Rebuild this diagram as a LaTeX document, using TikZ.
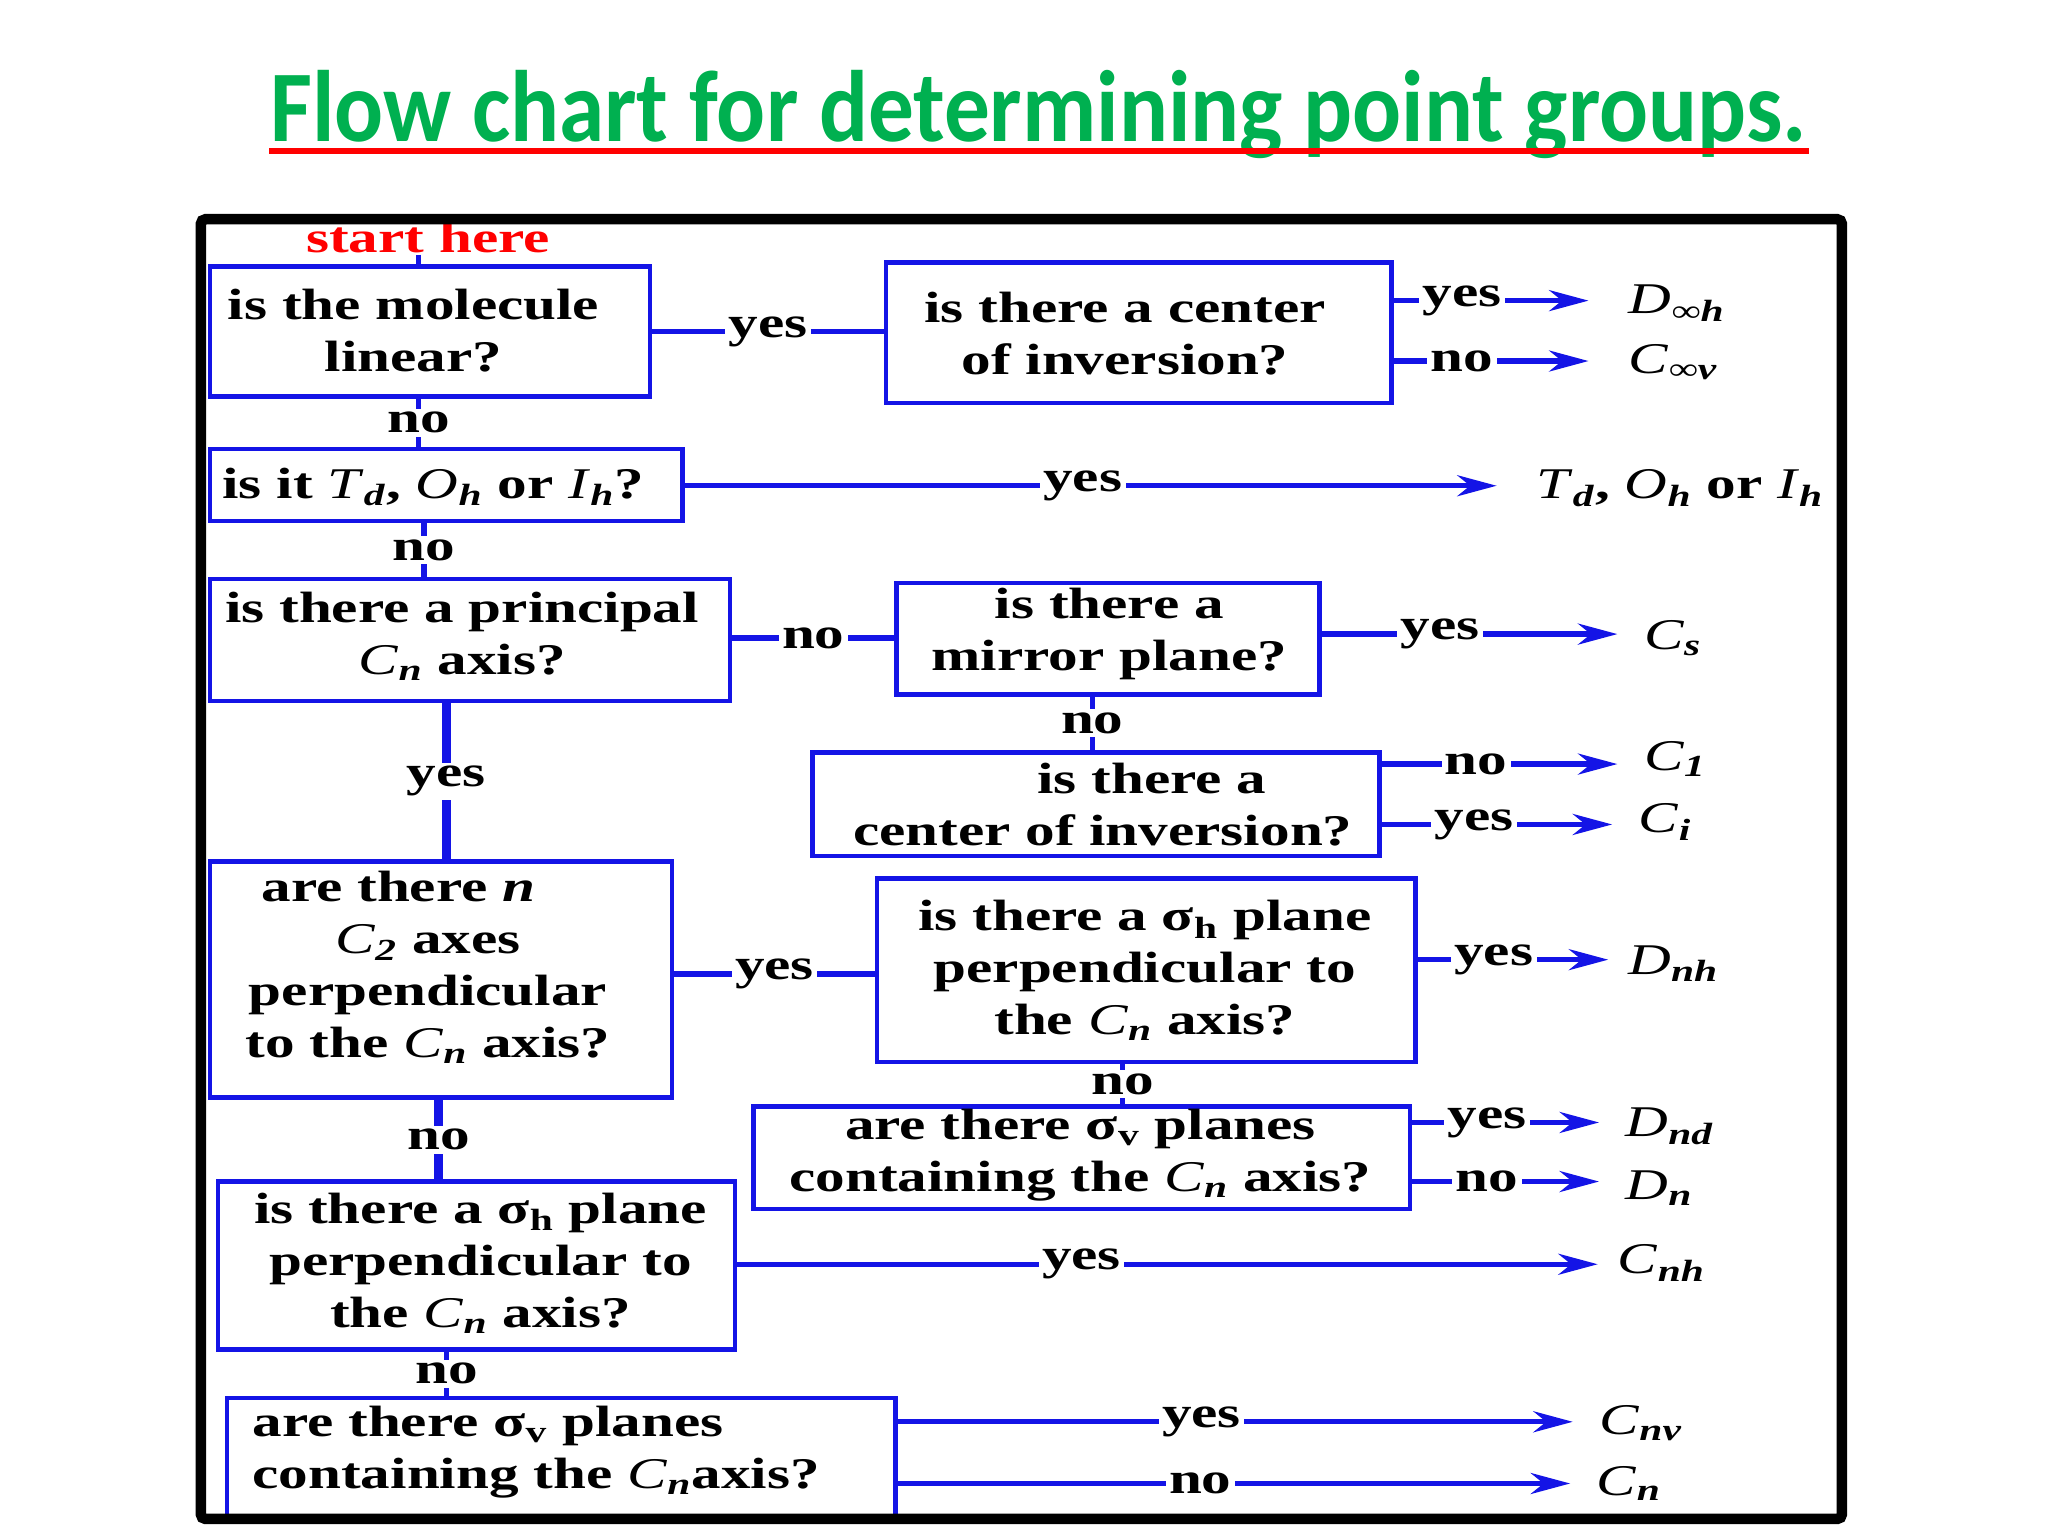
\documentclass[tikz,border=0pt]{standalone}
\usepackage{fontspec}
\setmainfont{Liberation Serif}[FakeStretch=1.35]
\newfontfamily\titlefont{Carlito}[FakeStretch=0.9]
\usetikzlibrary{fit,arrows.meta}
\definecolor{bl}{RGB}{20,20,230}
\definecolor{tg}{RGB}{0,176,80}
\newcommand{\sy}[2]{\textit{\mdseries #1}\textsubscript{\textit{#2}}}
\tikzset{
 box/.style={draw=bl,line width=0.07cm,inner sep=0pt},
 txt/.style={inner sep=0pt,align=center,font=\fontsize{19}{22.5}\selectfont\bfseries},
 ln/.style={draw=bl,line width=0.08cm},
 thk/.style={draw=bl,line width=0.13cm},
 ar/.style={ln,-{Stealth[length=0.6cm,width=0.32cm]}},
 lb/.style={fill=white,inner sep=1.5pt,font=\fontsize{19}{22}\selectfont\bfseries},
 res/.style={anchor=west,inner sep=0pt,font=\fontsize{19}{22}\selectfont\bfseries},
}
\begin{document}
\begin{tikzpicture}[x=0.02cm,y=-0.02cm]
\useasboundingbox (0,0) rectangle (1560,1170);
\node[font=\titlefont\fontsize{44}{48}\selectfont\bfseries,text=tg,anchor=base] (title) at (791,108) {Flow chart for determining point groups.};
\draw[red,line width=0.1cm] (205,115) -- (1378,115);
\begin{scope}
\clip (153,167) rectangle (1403,1157);
\node[box,fit={(160,203) (495,302)}] (b1) {};
\node[box,fit={(675,200) (1060,307)}] (b2) {};
\node[box,fit={(160,342) (520,397)}] (b3) {};
\node[box,fit={(160,441) (556,534)}] (b4) {};
\node[box,fit={(683,444) (1005,529)}] (b5) {};
\node[box,fit={(619,573) (1051,652)}] (b6) {};
\node[box,fit={(160,656) (512,836)}] (b7) {};
\node[box,fit={(668,669) (1078,809)}] (b8) {};
\node[box,fit={(574,843) (1074,921)}] (b9) {};
\node[box,fit={(166,900) (560,1028)}] (b10) {};
\node[box,fit={(173,1065) (682,1170)}] (b11) {};
\node[txt] (t1) at (315,252) {is the molecule\\linear?};
\node[txt] (t2) at (857,254) {is there a center\\of inversion?};
\node[txt] (t3) at (330,371) {is it \sy{T}{d}, \sy{O}{h} or \sy{I}{h}?};
\node[txt] (t4) at (352,485) {is there a principal\\\sy{C}{n} axis?};
\node[txt] (t5) at (845,483) {is there a\\mirror plane?};
\node[txt] (t6) at (840,613) {\hspace*{1.5cm}is there a\\center of inversion?};
\node[txt] (t7) at (326,737) {are there \textit{n}\hspace*{0.9cm}\\\sy{C}{2} axes\hspace*{1.4cm}\\perpendicular\\to the \sy{C}{n} axis?};
\node[txt] (t8) at (872,739) {is there a σ\textsubscript{h} plane\\perpendicular to\\the \sy{C}{n} axis?};
\node[txt] (t9) at (823,880) {are there σ\textsubscript{v} planes\\containing the \sy{C}{n} axis?};
\node[txt] (t10) at (366,962) {is there a σ\textsubscript{h} plane\\perpendicular to\\the \sy{C}{n} axis?};
\node[txt,align=left,anchor=west] (t11) at (192,1106) {are there σ\textsubscript{v} planes\\containing the \sy{C}{n}axis?};
% results
\node[res] (r1) at (1240,231) {\sy{D}{∞h}};
\node[res] (r2) at (1240,276) {\sy{C}{∞v}};
\node[res] (r3) at (1170,372) {\sy{T}{d}, \sy{O}{h} or \sy{I}{h}};
\node[res] (r4) at (1252,486) {\sy{C}{s}};
\node[res] (r5) at (1252,578) {\sy{C}{1}};
\node[res] (r6) at (1248,626) {\sy{C}{i}};
\node[res] (r7) at (1240,734) {\sy{D}{nh}};
\node[res] (r8) at (1238,858) {\sy{D}{nd}};
\node[res] (r9) at (1238,905) {\sy{D}{n}};
\node[res] (r10) at (1232,962) {\sy{C}{nh}};
\node[res] (r11) at (1218,1084) {\sy{C}{nv}};
\node[res] (r12) at (1216,1130) {\sy{C}{n}};
% start
\node[font=\fontsize{19}{22}\selectfont\bfseries,text=red,inner sep=0pt] (st) at (326,181) {start here};
\draw[ln] (319,194) -- (b1.north -| 319,0);
% connectors
\draw[ln] (b1.east) -- node[lb]{yes} (b1.east -| b2.west);
\draw[ar] (b2.east |- 0,229) -- node[lb,pos=0.35]{yes} ([xshift=-0.6cm]r1.west |- 0,229);
\draw[ar] (b2.east |- 0,275) -- node[lb,pos=0.35]{no} ([xshift=-0.6cm]r2.west |- 0,275);
\draw[ln] (b1.south -| 319,0) -- node[lb]{no} (b3.north -| 319,0);
\draw[ar] (b3.east |- 0,370) -- node[lb,pos=0.49]{yes} ([xshift=-0.6cm]r3.west |- 0,370);
\draw[ln] (b3.south -| 323,0) -- node[lb]{no} (b4.north -| 323,0);
\draw[ln] (b4.east |- 0,486) -- node[lb]{no} (b5.west |- 0,486);
\draw[ar] (b5.east |- 0,483) -- node[lb,pos=0.4]{yes} ([xshift=-0.4cm]r4.west |- 0,483);
\draw[ln] (b5.south -| 832,0) -- node[lb]{no} (b6.north -| 832,0);
\draw[ar] (b6.east |- 0,582) -- node[lb,pos=0.4]{no} ([xshift=-0.4cm]r5.west |- 0,582);
\draw[ar] (b6.east |- 0,628) -- node[lb,pos=0.4]{yes} ([xshift=-0.4cm]r6.west |- 0,628);
\draw[thk] (b4.south -| 340,0) -- node[lb]{yes} (b7.north -| 340,0);
\draw[ln] (b7.east |- 0,742) -- node[lb]{yes} (b8.west |- 0,742);
\draw[ar] (b8.east |- 0,731) -- node[lb,pos=0.4]{yes} ([xshift=-0.3cm]r7.west |- 0,731);
\draw[ln] (b8.south -| 855,0) -- node[lb]{no} (b9.north -| 855,0);
\draw[ar] (b9.east |- 0,855) -- node[lb,pos=0.4]{yes} ([xshift=-0.4cm]r8.west |- 0,855);
\draw[ar] (b9.east |- 0,900) -- node[lb,pos=0.4]{no} ([xshift=-0.4cm]r9.west |- 0,900);
\draw[thk] (b7.south -| 334,0) -- node[lb]{no} (b10.north -| 334,0);
\draw[ar] (b10.east |- 0,963) -- node[lb,pos=0.4]{yes} ([xshift=-0.3cm]r10.west |- 0,963);
\draw[ln] (b10.south -| 340,0) -- node[lb]{no} (b11.north -| 340,0);
\draw[ar] (b11.east |- 0,1083) -- node[lb,pos=0.45]{yes} ([xshift=-0.4cm]r11.west |- 0,1083);
\draw[ar] (b11.east |- 0,1130) -- node[lb,pos=0.45]{no} ([xshift=-0.4cm]r12.west |- 0,1130);
\end{scope}
\draw[line width=0.16cm,rounded corners=2pt] (153,167) rectangle (1403,1157);
\end{tikzpicture}
\end{document}
